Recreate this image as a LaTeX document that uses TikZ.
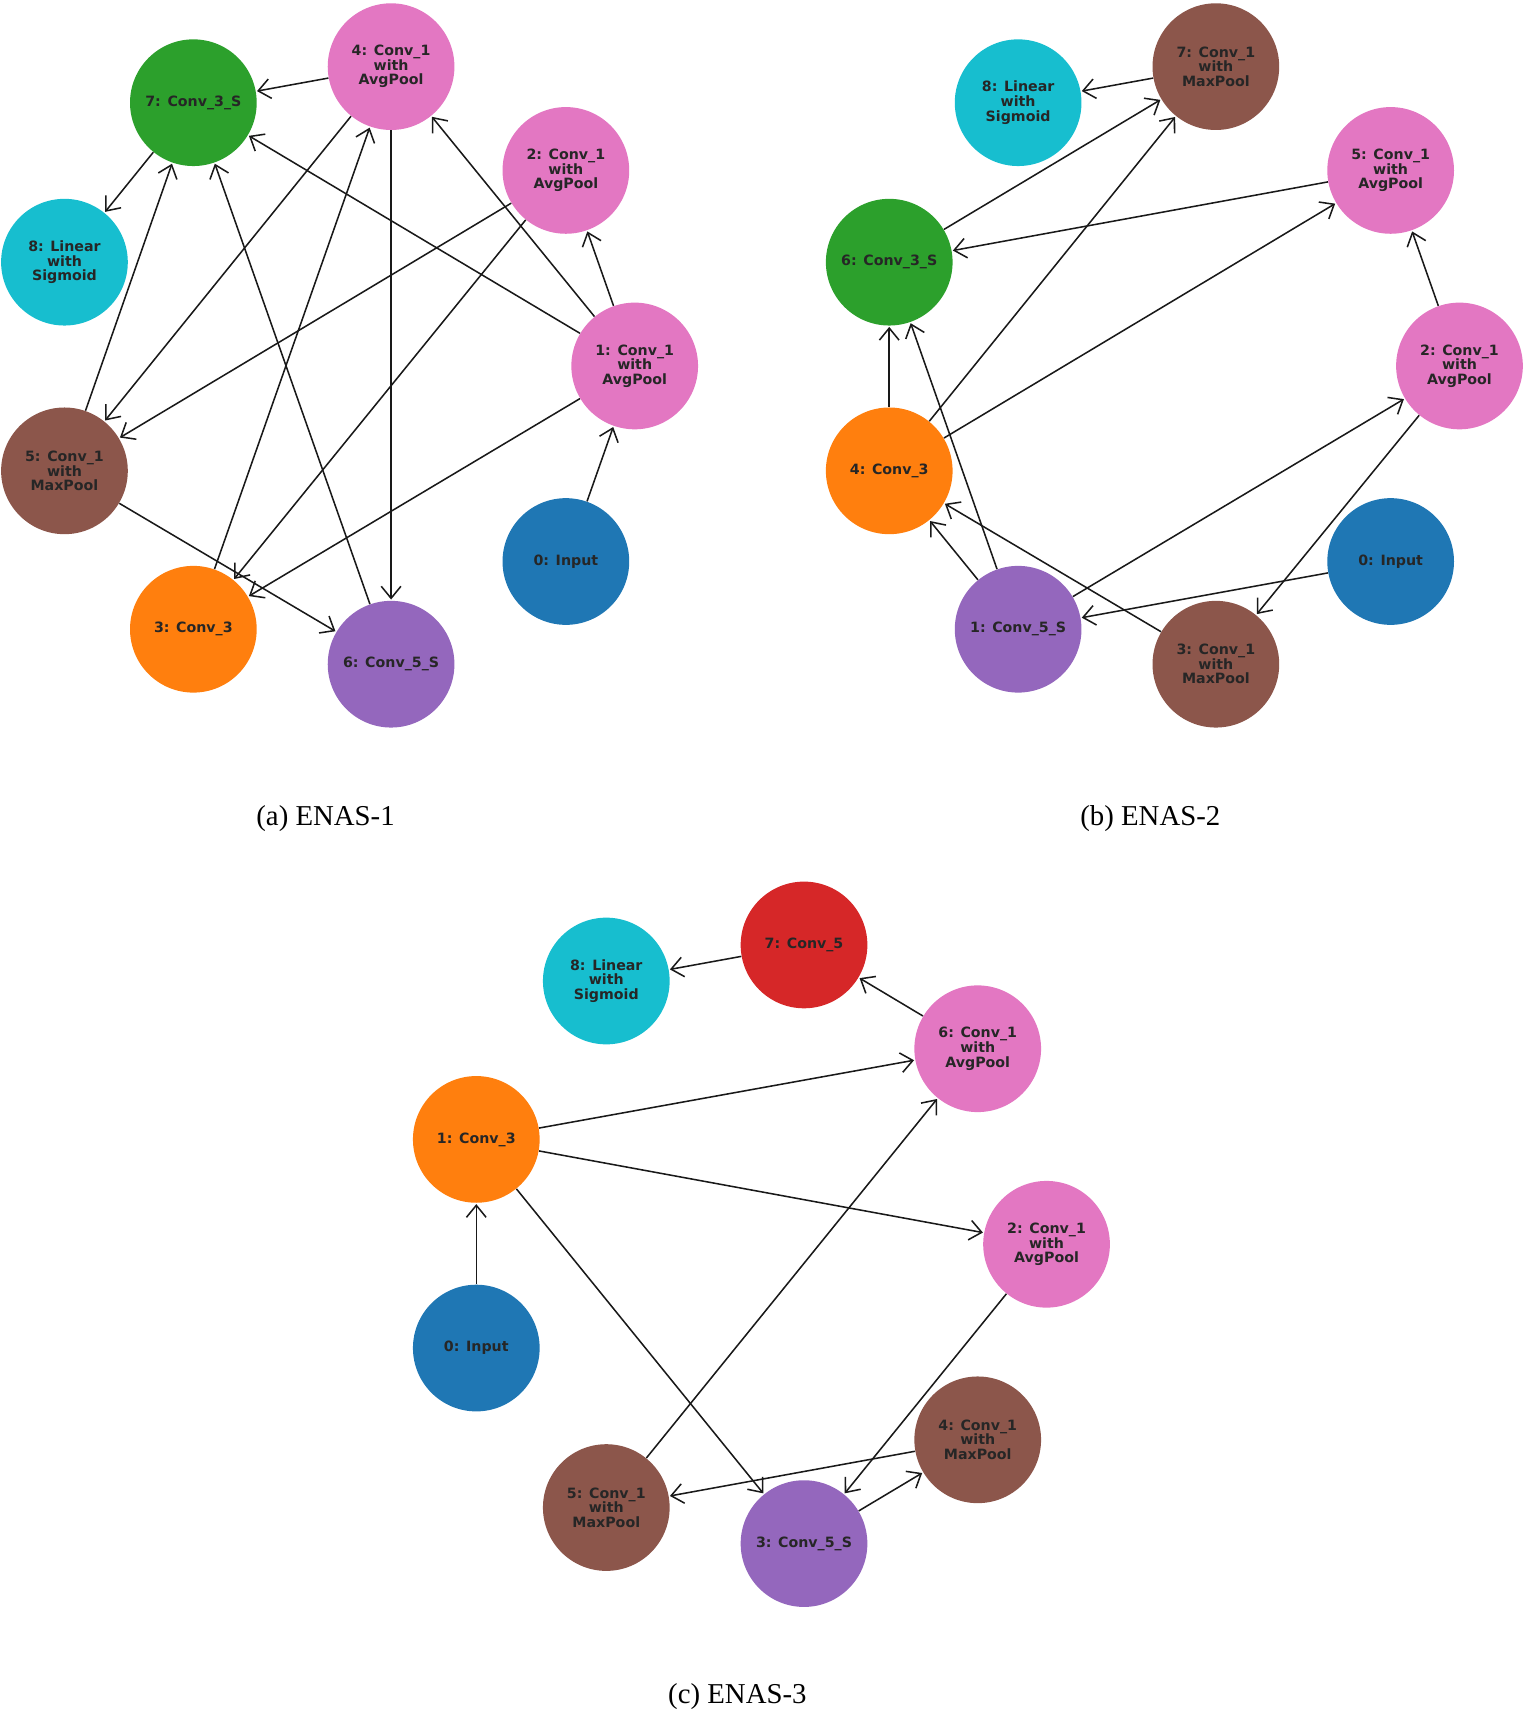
\documentclass[tikz,border=0pt]{standalone}
\usepackage{fontspec}
\setmainfont{Liberation Serif}
\newfontfamily\nodefont{DejaVu Sans}
\usetikzlibrary{arrows.meta}
\definecolor{cb}{HTML}{1F77B4}\definecolor{cp}{HTML}{E377C2}\definecolor{co}{HTML}{FF7F0E}
\definecolor{cn}{HTML}{8C564B}\definecolor{cv}{HTML}{9467BD}\definecolor{cg}{HTML}{2CA02C}
\definecolor{cc}{HTML}{17BECF}\definecolor{cr}{HTML}{D62728}
\begin{document}
\begin{tikzpicture}[x=0.02cm,y=-0.02cm,
  nd/.style={circle,minimum size=2.32cm,inner sep=0pt,draw=none,align=center,font=\nodefont\bfseries\fontsize{7.4}{7.6}\selectfont,text=black!85},
  ed/.style={->,>={Straight Barb[length=2.2mm,width=3.6mm]},line width=0.8pt,black!90,shorten >=0.5pt},
  captxt/.style={font=\fontsize{15}{17}\selectfont}]
\useasboundingbox (0,0) rectangle (1397,1569);
% (a)
\node[nd,fill=cb] (a0) at (518,514) {0: Input};
\node[nd,fill=cp] (a1) at (581,335) {1: Conv\_1\\with\\AvgPool};
\node[nd,fill=cp] (a2) at (518,156) {2: Conv\_1\\with\\AvgPool};
\node[nd,fill=co] (a3) at (177,576) {3: Conv\_3};
\node[nd,fill=cp] (a4) at (358,61) {4: Conv\_1\\with\\AvgPool};
\node[nd,fill=cn] (a5) at (59,431) {5: Conv\_1\\with\\MaxPool};
\node[nd,fill=cv] (a6) at (358,608) {6: Conv\_5\_S};
\node[nd,fill=cg] (a7) at (177,94) {7: Conv\_3\_S};
\node[nd,fill=cc] (a8) at (59,240) {8: Linear\\with\\Sigmoid};
\foreach \s/\t in {a0/a1,a1/a2,a1/a4,a1/a7,a1/a3,a2/a5,a2/a3,a4/a7,a4/a5,a4/a6,a3/a4,a5/a7,a5/a6,a6/a7,a7/a8}
  \draw[ed] (\s) -- (\t);
\node[captxt] (capa) at (298,749) {(a) ENAS-1};
% (b)
\node[nd,fill=cb] (b0) at (1273,514) {0: Input};
\node[nd,fill=cv] (b1) at (932,576) {1: Conv\_5\_S};
\node[nd,fill=cp] (b2) at (1336,335) {2: Conv\_1\\with\\AvgPool};
\node[nd,fill=cn] (b3) at (1113,608) {3: Conv\_1\\with\\MaxPool};
\node[nd,fill=co] (b4) at (814,431) {4: Conv\_3};
\node[nd,fill=cp] (b5) at (1273,156) {5: Conv\_1\\with\\AvgPool};
\node[nd,fill=cg] (b6) at (814,240) {6: Conv\_3\_S};
\node[nd,fill=cn] (b7) at (1113,61) {7: Conv\_1\\with\\MaxPool};
\node[nd,fill=cc] (b8) at (932,94) {8: Linear\\with\\Sigmoid};
\foreach \s/\t in {b0/b1,b1/b2,b2/b3,b2/b5,b5/b6,b6/b7,b4/b7,b4/b5,b4/b6,b1/b4,b1/b6,b3/b4,b7/b8}
  \draw[ed] (\s) -- (\t);
\node[captxt] (capb) at (1053,749) {(b) ENAS-2};
% (c)
\node[nd,fill=cb] (c0) at (436,1234) {0: Input};
\node[nd,fill=co] (c1) at (436,1043) {1: Conv\_3};
\node[nd,fill=cp] (c2) at (958,1139) {2: Conv\_1\\with\\AvgPool};
\node[nd,fill=cv] (c3) at (736,1413) {3: Conv\_5\_S};
\node[nd,fill=cn] (c4) at (895,1318) {4: Conv\_1\\with\\MaxPool};
\node[nd,fill=cn] (c5) at (555,1380) {5: Conv\_1\\with\\MaxPool};
\node[nd,fill=cp] (c6) at (895,960) {6: Conv\_1\\with\\AvgPool};
\node[nd,fill=cr] (c7) at (736,865) {7: Conv\_5};
\node[nd,fill=cc] (c8) at (555,898) {8: Linear\\with\\Sigmoid};
\foreach \s/\t in {c0/c1,c1/c6,c1/c2,c1/c3,c2/c3,c3/c4,c4/c5,c5/c6,c6/c7,c7/c8}
  \draw[ed] (\s) -- (\t);
\node[captxt] (capc) at (675,1553) {(c) ENAS-3};
\end{tikzpicture}
\end{document}
